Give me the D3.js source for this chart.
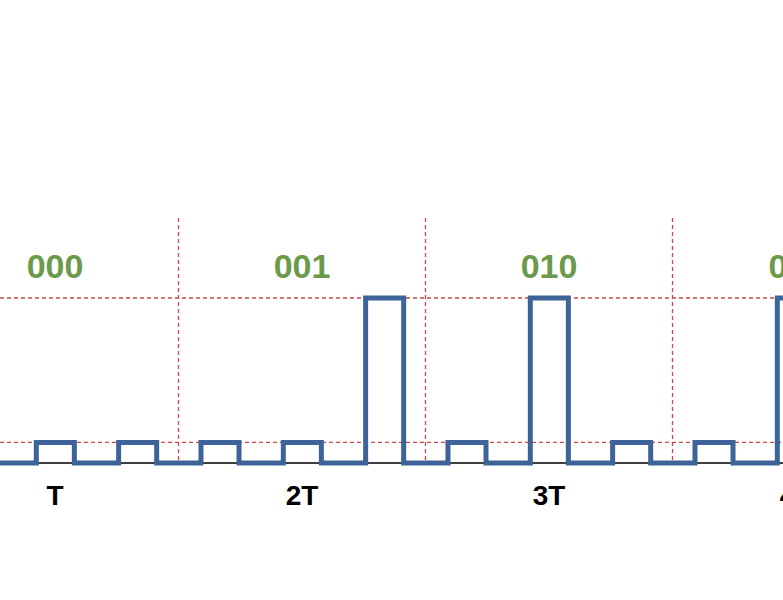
<!DOCTYPE html>
<html><head><meta charset="utf-8">
<script src="https://cdn.jsdelivr.net/npm/d3@7"></script>
<style>body{margin:0;background:#fff}svg{display:block}</style>
</head><body>
<script>
// Data
const codes = ["000","001","010","011"];          // symbol per period
const tickLabels = ["T","2T","3T","4T"];
const tickValues = [1,2,3,4];                      // period centers (units of T)
const lowLevel = 1, highLevel = 8;                 // pulse amplitudes
const refLevels = [1, 8];                          // dashed reference levels

const W = 783, H = 600;
const svg = d3.select("body").append("svg").attr("width", W).attr("height", H);
const x = d3.scaleLinear().domain([1, 2]).range([55, 302]);
const y = d3.scaleLinear().domain([0, 8]).range([463, 298]);

const slotOff = 0.091, slotW = 0.154;
const pts = [[x.invert(-20), 0]];
codes.forEach((c, i) => {
  const start = tickValues[i] - 0.5;
  c.split("").forEach((b, j) => {
    const s = start + j / 3 + slotOff;
    const lvl = b === "1" ? highLevel : lowLevel;
    pts.push([s, 0], [s, lvl], [s + slotW, lvl], [s + slotW, 0]);
  });
});
pts.push([x.invert(W + 20), 0]);

const red = "#c9484a";
svg.selectAll(".h").data(refLevels).enter().append("line")
  .attr("x1", 0).attr("x2", W).attr("y1", d => y(d)).attr("y2", d => y(d))
  .attr("stroke", red).attr("stroke-width", 1.3).attr("stroke-dasharray", "4,3");
svg.selectAll(".v").data([1.5, 2.5, 3.5]).enter().append("line")
  .attr("x1", d => x(d)).attr("x2", d => x(d)).attr("y1", 218).attr("y2", y(0))
  .attr("stroke", red).attr("stroke-width", 1.3).attr("stroke-dasharray", "4,3");
svg.append("line").attr("x1", 0).attr("x2", W).attr("y1", y(0)).attr("y2", y(0))
  .attr("stroke", "#000").attr("stroke-width", 1.5);
svg.append("path").attr("d", d3.line().x(d => x(d[0])).y(d => y(d[1]))(pts))
  .attr("fill", "none").attr("stroke", "#3d6399").attr("stroke-width", 5)
  .attr("stroke-linejoin", "miter");
svg.selectAll(".c").data(codes).enter().append("text")
  .attr("x", (d, i) => x(tickValues[i])).attr("y", 278).attr("text-anchor", "middle")
  .attr("font-family", "Liberation Sans, Arial, sans-serif").attr("font-weight", "bold")
  .attr("font-size", 34).attr("fill", "#6b9a4b").text(d => d);
svg.selectAll(".t").data(tickLabels).enter().append("text")
  .attr("x", (d, i) => x(tickValues[i])).attr("y", 505).attr("text-anchor", "middle")
  .attr("font-family", "Liberation Sans, Arial, sans-serif").attr("font-weight", "bold")
  .attr("font-size", 28).attr("fill", "#000").text(d => d);
</script>
</body></html>
